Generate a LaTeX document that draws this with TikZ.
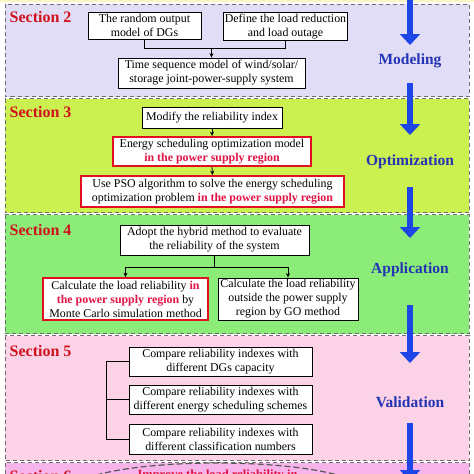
\documentclass[tikz,border=0pt]{standalone}
\usepackage{fontspec}
\setmainfont{Liberation Serif}
\usetikzlibrary{arrows.meta}
\definecolor{lav}{RGB}{226,221,247}
\definecolor{ygreen}{RGB}{204,240,80}
\definecolor{lgreen}{RGB}{140,236,120}
\definecolor{lpink}{RGB}{252,210,230}
\definecolor{mpink}{RGB}{246,180,234}
\definecolor{topyel}{RGB}{250,246,196}
\definecolor{secred}{RGB}{208,16,28}
\definecolor{hired}{RGB}{224,20,70}
\definecolor{boxred}{RGB}{224,16,32}
\definecolor{arrblue}{RGB}{30,70,230}
\definecolor{labblue}{RGB}{36,52,180}
\definecolor{dashgray}{RGB}{110,110,110}
\tikzset{
 secbox/.style={draw=dashgray, dash pattern=on 4pt off 3pt, line width=0.8pt},
 box/.style={draw=black, line width=0.8pt, fill=white, align=center, inner sep=0pt, font=\fontsize{11.9}{14}\selectfont},
 redbox/.style={box, draw=boxred, line width=1.8pt},
 seclabel/.style={anchor=base west, text=secred, font=\fontsize{16}{18}\selectfont\bfseries, inner sep=0pt},
 phase/.style={text=labblue, font=\fontsize{15.5}{18}\selectfont\bfseries, inner sep=0pt},
 conn/.style={draw=black, line width=0.8pt},
 carr/.style={conn, -{Stealth[length=4.5pt,width=4pt]}},
 bigarr/.style={draw=arrblue, line width=6pt, -{Triangle[width=20pt,length=11pt]}}
}
\newcommand{\hl}[1]{\textcolor{hired}{\textbf{#1}}}
\begin{document}
\begin{tikzpicture}[x=1pt,y=-1pt]
\useasboundingbox (0,0) rectangle (474,474);
\clip (0,0) rectangle (474,474);
\fill[white] (0,0) rectangle (474,474);
\fill[topyel] (0,-5) rectangle (474,2.2);
% sections
\draw[secbox, fill=lav] (5,4) rectangle (469,96.5);
\draw[secbox, fill=ygreen] (5,98.5) rectangle (469,212.5);
\draw[secbox, fill=lgreen] (5,214.5) rectangle (469,333.5);
\draw[secbox, fill=lpink] (5,335.5) rectangle (469,460.5);
\draw[secbox, fill=mpink] (5,462.5) rectangle (469,530);
% section labels
\node[seclabel] (s2) at (9.5,22) {Section 2};
\node[seclabel] (s3) at (9.5,117) {Section 3};
\node[seclabel] (s4) at (9.5,235) {Section 4};
\node[seclabel] (s5) at (9.5,356) {Section 5};
\node[seclabel] (s6) at (9.5,481) {Section 6};
% phase labels
\node[phase] (ph1) at (410,61) {Modeling};
\node[phase] (ph2) at (410,162) {Optimization};
\node[phase] (ph3) at (410,270) {Application};
\node[phase] (ph4) at (410,402) {Validation};
% big arrows
\coordinate (b0s) at (410,-2);   \coordinate (b0e) at (410,45);
\coordinate (b1s) at (410,83);   \coordinate (b1e) at (410,135);
\coordinate (b2s) at (410,187);  \coordinate (b2e) at (410,238);
\coordinate (b3s) at (410,305);  \coordinate (b3e) at (410,363);
\coordinate (b4s) at (410,423);  \coordinate (b4e) at (410,481);
\draw[bigarr] (b0s) -- (b0e);
\draw[bigarr] (b1s) -- (b1e);
\draw[bigarr] (b2s) -- (b2e);
\draw[bigarr] (b3s) -- (b3e);
\draw[bigarr] (b4s) -- (b4e);
% Section 2
\node[box, minimum width=113, minimum height=27] (A) at (144.5,25.5) {The random output\\model of DGs};
\node[box, minimum width=124, minimum height=28] (B) at (285.5,26.5) {Define the load reduction\\and load outage};
\node[box, minimum width=187, minimum height=30] (C) at (211.5,73) {Time sequence model of wind/solar/\\storage joint-power-supply system};
\draw[conn] (A.south) -- ++(0,9) -| (B.south);
\coordinate (j1) at ([yshift=10pt]C.north);
\draw[carr] (j1) -- (C.north);
% Section 3
\node[box, minimum width=140, minimum height=21] (D) at (212,117.5) {Modify the reliability index};
\node[redbox, minimum width=198, minimum height=29] (E) at (212,151.5) {Energy scheduling optimization model\\\hl{in the power supply region}};
\node[redbox, minimum width=263, minimum height=31] (F) at (212.5,191.5) {Use PSO algorithm to solve the energy scheduling\\optimization problem \hl{in the power supply region}};
\draw[carr] (D.south) -- (E.north);
\draw[carr] (E.south) -- (F.north);
% Section 4
\node[box, minimum width=189, minimum height=30] (G) at (214.5,240) {Adopt the hybrid method to evaluate\\the reliability of the system};
\node[redbox, minimum width=165, minimum height=42] (H) at (125.5,299) {Calculate the load reliability \hl{in}\\\hl{the power supply region} by\\Monte Carlo simulation method};
\node[box, minimum width=140, minimum height=42] (I) at (288,299) {Calculate the load reliability\\outside the power supply\\region by GO method};
\draw[conn] (G.south) -- ++(0,12) coordinate (j2);
\draw[conn] (j2 -| H.north) -- (j2 -| I.north);
\draw[carr] (j2 -| H.north) -- (H.north);
\draw[carr] (j2 -| I.north) -- (I.north);
% Section 5
\node[box, minimum width=183, minimum height=29] (J) at (220.5,361.5) {Compare reliability indexes with\\different DGs capacity};
\node[box, minimum width=183, minimum height=29] (K) at (220.5,399.5) {Compare reliability indexes with\\different energy scheduling schemes};
\node[box, minimum width=183, minimum height=30] (L) at (220.5,439) {Compare reliability indexes with\\different classification numbers};
\draw[conn] (J.west) -- ++(-22,0) |- (L.west);
\draw[conn] (K.west) -- ++(-22,0);
% Section 6
\draw[draw=dashgray!80!black, dash pattern=on 6pt off 3pt, line width=1.2pt] (217,490) ellipse [x radius=145, y radius=27];
\node[anchor=base, text=hired, font=\fontsize{12.5}{15}\selectfont\bfseries, inner sep=0pt] (M) at (217.5,478.5) {Improve the load reliability in};
\end{tikzpicture}
\end{document}
